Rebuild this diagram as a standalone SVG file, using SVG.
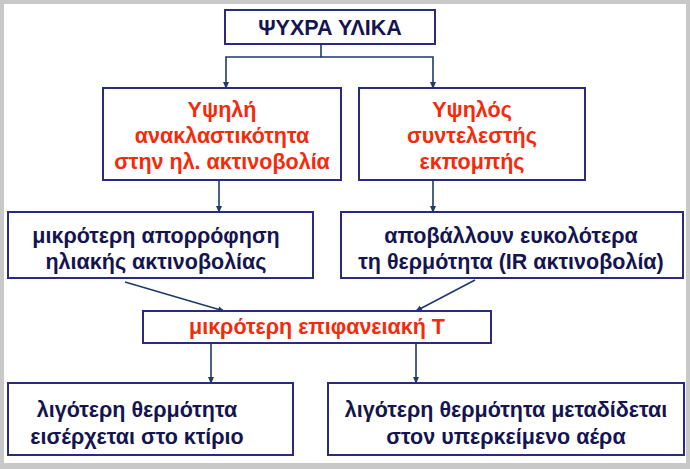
<svg xmlns="http://www.w3.org/2000/svg" width="690" height="469" viewBox="0 0 690 469">
<style>
.b{fill:#fff;stroke:#2a2a80;stroke-width:2}
.t{font-family:"Liberation Sans",Arial,sans-serif;font-weight:bold;font-size:21.5px;text-anchor:middle;fill:#141450}
.r{fill:#f52a0a}
.c{stroke:#1e3a6a;stroke-width:1.6;fill:none;marker-end:url(#a)}
</style>
<defs><marker id="a" markerWidth="8" markerHeight="8" refX="6" refY="4" orient="auto" markerUnits="userSpaceOnUse"><path d="M0,1 L7,4 L0,7 Z" fill="#1e3a6a"/></marker></defs>
<rect width="690" height="469" fill="#c8c8c8"/>
<rect x="4" y="4" width="682" height="459" fill="#fff"/>
<g id="connectors">
<path class="c" d="M321,44 V57 H226 V88"/>
<path class="c" d="M321,57 H433 V88"/>
<path class="c" d="M219,180 V212"/>
<path class="c" d="M433,180 V212"/>
<path class="c" d="M125,282 L224,311"/>
<path class="c" d="M475,280 L416,311"/>
<path class="c" d="M211,343 V383"/>
<path class="c" d="M416,343 V383"/>
</g>
<g id="n1"><rect class="b" x="225" y="10" width="210" height="34"/><text class="t" x="330" y="35">ΨΥΧΡΑ ΥΛΙΚΑ</text></g>
<g id="n2"><rect class="b" x="103" y="88" width="238" height="92"/><text class="t r" x="222" y="117">Υψηλή</text><text class="t r" x="222" y="143">ανακλαστικότητα</text><text class="t r" x="222" y="169">στην ηλ. ακτινοβολία</text></g>
<g id="n3"><rect class="b" x="359" y="88" width="226" height="92"/><text class="t r" x="472" y="117">Υψηλός</text><text class="t r" x="472" y="143">συντελεστής</text><text class="t r" x="472" y="169">εκπομπής</text></g>
<g id="n4"><rect class="b" x="8" y="212" width="305" height="66"/><text class="t" x="156" y="243">μικρότερη απορρόφηση</text><text class="t" x="156" y="269">ηλιακής ακτινοβολίας</text></g>
<g id="n5"><rect class="b" x="341" y="212" width="342" height="66"/><text class="t" x="511" y="243">αποβάλλουν ευκολότερα</text><text class="t" x="511" y="269">τη θερμότητα (IR ακτινοβολία)</text></g>
<g id="n6"><rect class="b" x="143" y="311" width="348" height="32"/><text class="t r" x="317" y="334">μικρότερη επιφανειακή Τ</text></g>
<g id="n7"><rect class="b" x="8" y="383" width="285" height="72"/><text class="t" x="137" y="417">λιγότερη θερμότητα</text><text class="t" x="137" y="444">εισέρχεται στο κτίριο</text></g>
<g id="n8"><rect class="b" x="328" y="383" width="356" height="72"/><text class="t" x="506" y="417">λιγότερη θερμότητα μεταδίδεται</text><text class="t" x="506" y="444">στον υπερκείμενο αέρα</text></g>
</svg>
